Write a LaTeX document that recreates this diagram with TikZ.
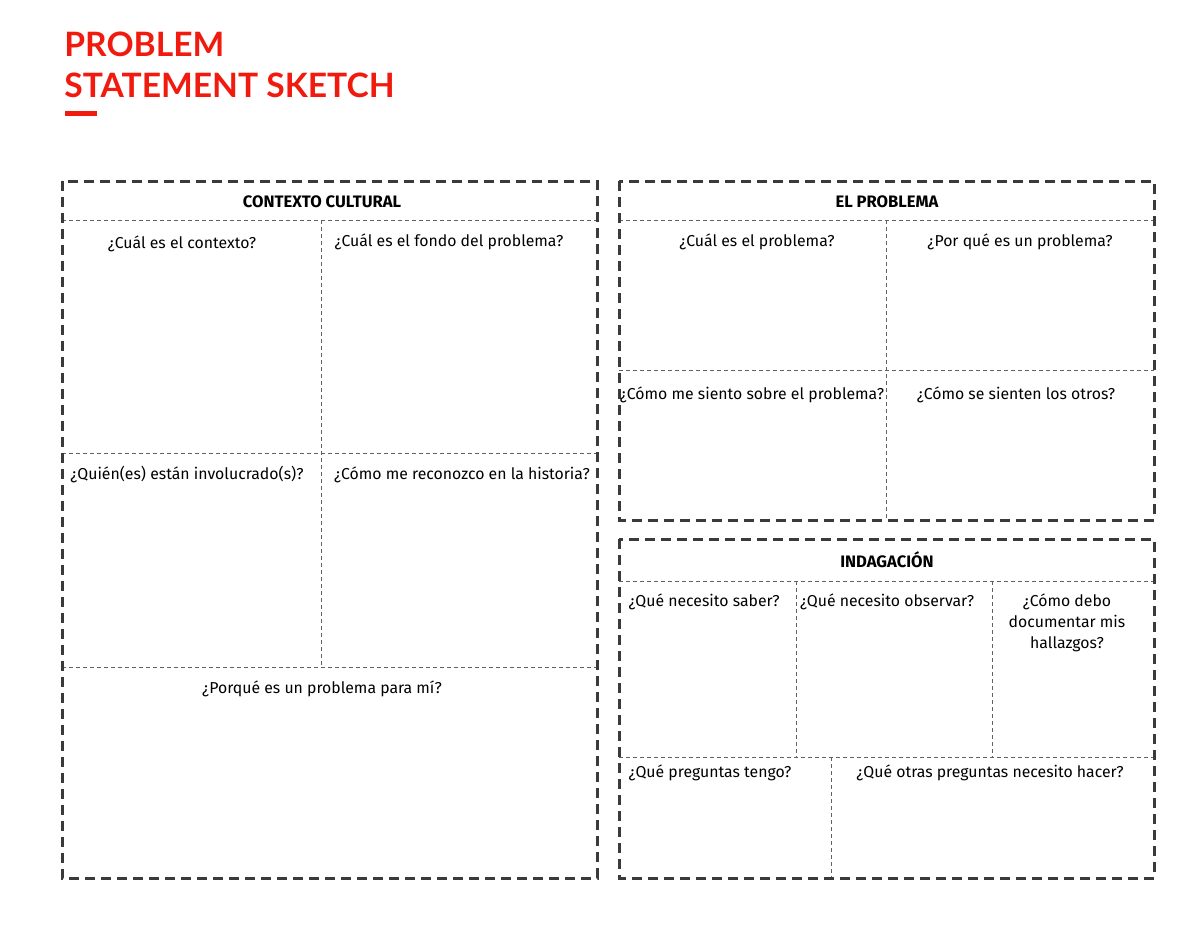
\documentclass[tikz,border=0pt]{standalone}
\usepackage{fontspec}
\setmainfont{Fira Sans}
\newfontfamily\titlefont{Lato}
\definecolor{tred}{HTML}{F01A0E}
\definecolor{ln}{HTML}{3A3A3A}
\begin{document}
\begin{tikzpicture}[x=0.5pt,y=-0.5pt,
  thick box/.style={draw=ln,line width=1.5pt,dash pattern=on 5pt off 3pt},
  thin line/.style={draw=ln!80,line width=0.5pt,dash pattern=on 2pt off 1.5pt},
  q/.style={font=\fontsize{7.9}{10.5}\selectfont,text=black,anchor=north,inner sep=0pt,align=center},
  hd/.style={font=\fontsize{8.3}{9}\selectfont\bfseries,text=black,inner sep=0pt}]
\useasboundingbox (0,0) rectangle (1200,927);
\node[anchor=north west,inner sep=0pt,text=tred,font=\titlefont\fontsize{16.8}{20.5}\selectfont\bfseries,align=left] (title) at (64,32) {PROBLEM\\STATEMENT SKETCH};
\fill[tred] (65,111) rectangle (97,116);
% left box
\draw[thin line] (62,220) -- (597,220) (321,220) -- (321,665) (62,453) -- (597,453) (62,667) -- (597,667);
\draw[thick box] (62,181) rectangle (597,878);
\node[hd] (h1) at (322,202) {CONTEXTO CULTURAL};
\node[q] (a1) at (182,235) {¿Cuál es el contexto?};
\node[q] (a2) at (449,233) {¿Cuál es el fondo del problema?};
\node[q] (a3) at (187,466) {¿Quién(es) están involucrado(s)?};
\node[q] (a4) at (462,466) {¿Cómo me reconozco en la historia?};
\node[q] (a5) at (322,680) {¿Porqué es un problema para mí?};
% right top
\draw[thin line] (619,220) -- (1154,220) (886,220) -- (886,520) (619,370) -- (1154,370);
\draw[thick box] (619,181) rectangle (1154,520);
\node[hd] (h2) at (887,202) {EL PROBLEMA};
\node[q] (b1) at (757,233) {¿Cuál es el problema?};
\node[q] (b2) at (1020,233) {¿Por qué es un problema?};
\node[q] (b3) at (752,386) {¿Cómo me siento sobre el problema?};
\node[q] (b4) at (1016,386) {¿Cómo se sienten los otros?};
% right bottom
\draw[thin line] (619,581) -- (1154,581) (796,581) -- (796,757) (992,581) -- (992,757) (619,757) -- (1154,757) (831,757) -- (831,878);
\draw[thick box] (619,539) rectangle (1154,878);
\node[hd] (h3) at (887,560) {INDAGACIÓN};
\node[q] (c1) at (704,593) {¿Qué necesito saber?};
\node[q] (c2) at (887,593) {¿Qué necesito observar?};
\node[q] (c3) at (1067,593) {¿Cómo debo\\documentar mis\\hallazgos?};
\node[q] (c4) at (710,764) {¿Qué preguntas tengo?};
\node[q] (c5) at (990,764) {¿Qué otras preguntas necesito hacer?};
\end{tikzpicture}
\end{document}
